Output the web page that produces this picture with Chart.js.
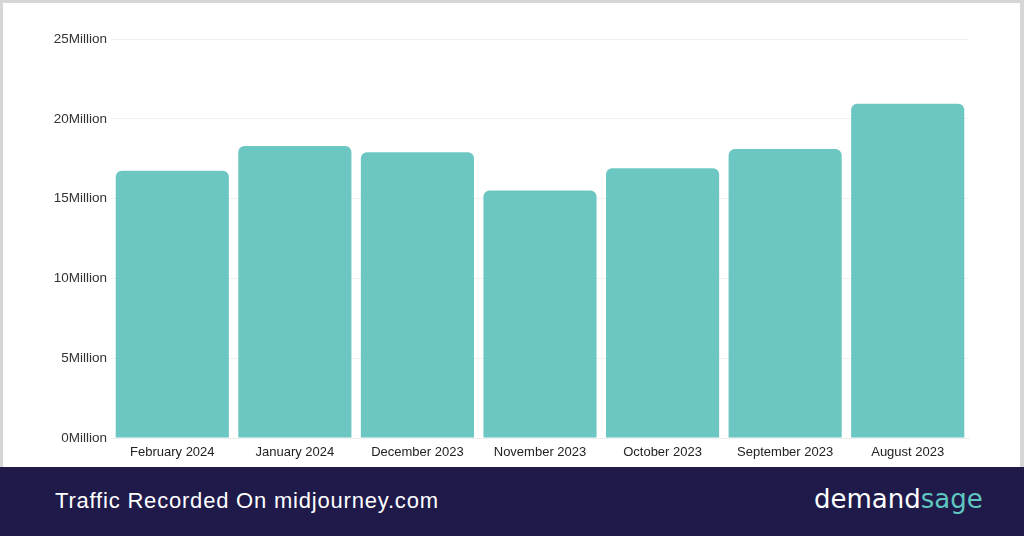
<!DOCTYPE html>
<html>
<head>
<meta charset="utf-8">
<script src="https://cdn.jsdelivr.net/npm/chart.js@4"></script>
<style>
  html,body{margin:0;padding:0;background:#fff;}
  #wrap{position:relative;width:1024px;height:536px;overflow:hidden;background:#fff;}
  #frame{position:absolute;left:0;top:0;width:1024px;height:467px;box-sizing:border-box;border:3px solid #d6d6d6;border-bottom:none;border-right-width:4px;}
  #cv{position:absolute;left:0;top:0;}
  #footer{position:absolute;left:0;top:467px;width:1024px;height:69px;background:#1f1a4a;}
  #title{position:absolute;left:55px;top:21px;color:#fff;font-family:"Liberation Sans",Arial,sans-serif;font-size:22px;letter-spacing:0.8px;}
  #logo{position:absolute;left:814px;top:17px;font-family:"DejaVu Sans",sans-serif;font-size:26px;color:#fff;letter-spacing:0px;}
  #logo span{color:#5fc6c0;}
</style>
</head>
<body>
<div id="wrap">
  <canvas id="cv" width="1024" height="467"></canvas>
  <div id="frame"></div>
  <div id="footer">
    <div id="title">Traffic Recorded On midjourney.com</div>
    <div id="logo">demand<span>sage</span></div>
  </div>
</div>
<script>
const categories = ["February 2024","January 2024","December 2023","November 2023","October 2023","September 2023","August 2023"];
const trafficMillions = [16.75, 18.3, 17.9, 15.5, 16.9, 18.1, 20.95];
const yTicks = [0, 5, 10, 15, 20, 25];
const tickSuffix = "Million";

new Chart(document.getElementById('cv'), {
  type: 'bar',
  data: {
    labels: categories,
    datasets: [{
      data: trafficMillions,
      backgroundColor: '#6cc7c3',
      borderRadius: {topLeft: 6, topRight: 6, bottomLeft: 0, bottomRight: 0},
      borderSkipped: 'bottom',
      categoryPercentage: 1.0,
      barPercentage: 0.923
    }]
  },
  options: {
    responsive: false,
    animation: false,
    devicePixelRatio: 1,
    layout: {padding: {left: 0, right: 55, top: 39, bottom: 0}},
    plugins: {legend: {display: false}, tooltip: {enabled: false}},
    scales: {
      x: {
        grid: {display: false, drawTicks: false},
        border: {display: true, color: '#eeeeee'},
        ticks: {color: '#222', font: {family: '"Liberation Sans", Arial, sans-serif', size: 13}, padding: 7, maxRotation: 0},
        afterFit: s => { s.height = 29; }
      },
      y: {
        min: 0, max: 25,
        afterBuildTicks: s => { s.ticks = yTicks.map(v => ({value: v})); },
        grid: {color: '#f0f0f0', drawTicks: false, lineWidth: 1},
        border: {display: false},
        ticks: {color: '#333', font: {family: '"Liberation Sans", Arial, sans-serif', size: 13.5}, padding: 4,
          callback: v => v + tickSuffix},
        afterFit: s => { s.width = 111; }
      }
    }
  }
});
</script>
</body>
</html>
